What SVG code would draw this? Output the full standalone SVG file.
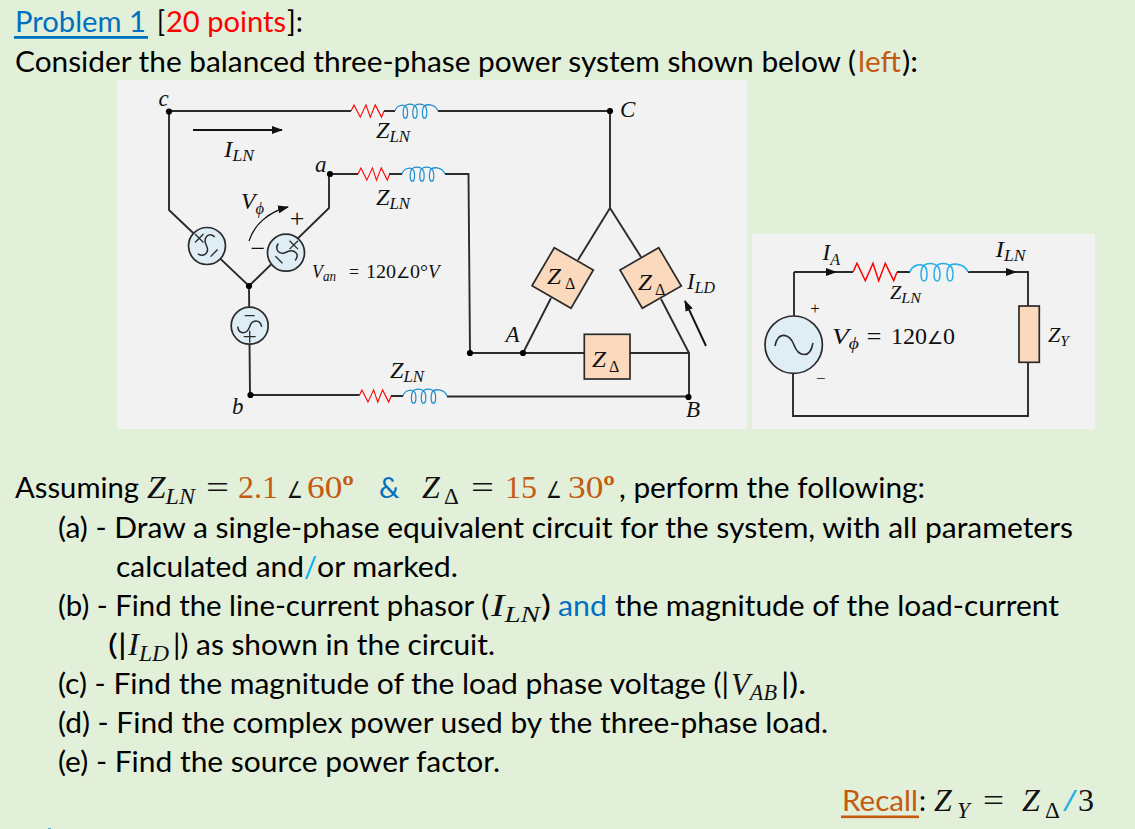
<svg xmlns="http://www.w3.org/2000/svg" width="1135" height="829" viewBox="0 0 1135 829">
<style>
.b{font-family:"Lato","Open Sans",sans-serif;font-size:28.5px;fill:#000}
.m{font-family:"Liberation Serif",serif;font-style:italic;fill:#111}
.u{font-family:"Liberation Serif",serif;font-style:normal;fill:#111}
.s20{font-size:23px}.s15{font-size:16px}.s30{font-size:32px}.s21{font-size:23px}
.w{fill:none;stroke:#2b2b2b;stroke-width:1.9}
.r{fill:none;stroke:#f00;stroke-width:1.5}
.l{fill:none;stroke:#1f8fd0;stroke-width:1.6}
.box{fill:#fbd9bd;stroke:#2b2b2b;stroke-width:1.7}
.src{fill:#deeef4;stroke:#2b2b2b;stroke-width:1.7}
.mk{fill:none;stroke:#2b2b2b;stroke-width:1.3}
.blue{fill:#0070c0}.red{fill:#f00}.or{fill:#c55a11}.sky{fill:#00b0f0}
</style>
<defs>
<path id="res" d="M0 0L4 -8.7L12.3 8.7L20 -8.7L25.7 8.7L32.3 -8.7L40.7 8.7L44 0"/>
<path id="coil" d="M0 0C2 -7 12 -10 16 -4C18 2 17 9 14 9C11 9 10 2 12 -4C15 -10 25 -10 29 -4C31 2 30 9 27 9C24 9 23 2 25 -4C28 -10 38 -10 42 -4C44 2 43 9 40 9C37 9 36 2 38 -4C41 -10 54 -9 58 0"/>
<g id="ac"><circle class="src" r="18.5"/><path class="mk" d="M-12 1C-11 9 -3 9 0 1C2 -6 10 -7 12 1" style="stroke-width:1.5"/><path class="mk" d="M-5 -10H5M-6 11H6M0 5V17"/></g>
<circle id="dot" r="3.1"/>
<marker id="arr" markerWidth="12" markerHeight="8" refX="10" refY="4" orient="auto" markerUnits="userSpaceOnUse"><path d="M0 0L11 4L0 8Z" fill="#111"/></marker>
</defs>
<rect width="1135" height="829" fill="#e2efd9"/>
<rect x="117" y="80" width="630" height="349" fill="#f2f2f2"/>
<rect x="752" y="234" width="343" height="195" fill="#f2f2f2"/>
<rect x="48" y="828" width="3" height="1" fill="#5aa7c7"/>

<g id="connectors">
<path class="w" d="M169 111H351M384 111H395M438 111H610V208M610 208L578 260M551 298L523 353M610 208L641 257M661 299L689 353"/>
<path class="w" d="M169 111V210L249 286L329 208V174H358M389 174H402M445 174H468.5L470 353H584M630 353H689V397M249 286L250 395H359M391 396H403M447 396.5H688"/>
<path class="w" d="M794 272V345M794 272H853M897 272H910M968 272H1028V306M1028 362V416H793V345"/>
<path class="w" d="M193 130H282" marker-end="url(#arr)" style="stroke:#111"/>
<path class="w" d="M706 346L685 301" marker-end="url(#arr)" style="stroke:#111"/>
<path class="w" d="M249 241C254 225 268 212 288 207" marker-end="url(#arr)" style="stroke:#111;stroke-width:1.3"/>
<path class="w" d="M794 272H836" marker-end="url(#arr)"/>
<path class="w" d="M968 272H1016" marker-end="url(#arr)"/>
</g>

<g id="line-c-impedance"><use href="#res" class="r" transform="translate(351 111) scale(.75 .7)"/><use href="#coil" class="l" transform="translate(395 111) scale(.74 .8)"/></g>
<g id="line-a-impedance"><use href="#res" class="r" transform="translate(358 174) scale(.72 .7)"/><use href="#coil" class="l" transform="translate(402 174) scale(.74 .8)"/></g>
<g id="line-b-impedance"><use href="#res" class="r" transform="translate(359 396) scale(.73 .7)"/><use href="#coil" class="l" transform="translate(403 396) scale(.76 .8)"/></g>
<g id="dots"><use href="#dot" x="169" y="111.5"/><use href="#dot" x="330" y="174"/><use href="#dot" x="249" y="286"/><use href="#dot" x="250.5" y="395"/><use href="#dot" x="610" y="111"/><use href="#dot" x="470" y="353"/><use href="#dot" x="523" y="353"/><use href="#dot" x="688.5" y="397"/></g>

<g id="source-c"><use href="#ac" transform="translate(207 246) rotate(135)"/></g>
<g id="source-a"><use href="#ac" transform="translate(286 252.7) rotate(225)"/></g>
<g id="source-b"><use href="#ac" transform="translate(249.7 325.7)"/></g>
<g id="load-AC"><path class="box" d="M554.3 247.7L593.3 270L571 308.3L532 285.7Z"/><text class="m s20" x="547" y="284" textLength="14" lengthAdjust="spacingAndGlyphs">Z</text><text class="u s15" x="565" y="289">Δ</text></g>
<g id="load-BC"><path class="box" d="M658.7 247.7L681.3 286L642.3 308.3L620 270Z"/><text class="m s20" x="638" y="290" textLength="14" lengthAdjust="spacingAndGlyphs">Z</text><text class="u s15" x="655" y="295">Δ</text></g>
<g id="load-AB"><rect class="box" x="584.3" y="334.3" width="45.7" height="44.7"/><text class="m s20" x="592" y="367" textLength="14" lengthAdjust="spacingAndGlyphs">Z</text><text class="u s15" x="609" y="372">Δ</text></g>

<g id="labels-left">
<text class="m s20" x="158.5" y="106">c</text>
<text class="m s20" x="376" y="138" textLength="34" lengthAdjust="spacingAndGlyphs">Z<tspan class="s15" dy="4">LN</tspan></text>
<text class="m s20" x="224" y="157" textLength="30" lengthAdjust="spacingAndGlyphs">I<tspan class="s15" dy="4">LN</tspan></text>
<text class="m s20" x="315" y="172">a</text>
<text class="m s20" x="376" y="205" textLength="34" lengthAdjust="spacingAndGlyphs">Z<tspan class="s15" dy="4">LN</tspan></text>
<text class="m s20" x="241" y="209" textLength="23" lengthAdjust="spacingAndGlyphs">V<tspan font-size="16" dy="5">ϕ</tspan></text>
<text class="u" font-size="26" x="289.7" y="226.5">+</text>
<text class="u" font-size="26" x="250.4" y="256.5">−</text>
<text class="m" font-size="19" x="312" y="278" textLength="24" lengthAdjust="spacingAndGlyphs">V<tspan font-size="14" dy="3">an</tspan></text>
<text class="u" font-size="19" x="349" y="278" textLength="10" lengthAdjust="spacingAndGlyphs">=</text>
<text class="u" font-size="19" x="366" y="278" textLength="62" lengthAdjust="spacingAndGlyphs">120<tspan font-size="15">∠</tspan>0°</text><text class="m" font-size="19" x="428" y="278">V</text>
<text class="m s20" x="390" y="378" textLength="34" lengthAdjust="spacingAndGlyphs">Z<tspan class="s15" dy="4">LN</tspan></text>
<text class="m s20" x="232" y="414">b</text>
<text class="m s20" x="620" y="117">C</text>
<text class="m s20" x="687" y="289" textLength="28" lengthAdjust="spacingAndGlyphs">I<tspan class="s15" dy="4">LD</tspan></text>
<text class="m s20" x="505.5" y="342">A</text>
<text class="m s20" x="686" y="417">B</text>
</g>

<g id="single-phase-circuit">
<use href="#res" class="r" transform="translate(853 272)"/>
<use href="#coil" class="l" transform="translate(910 272)" style="stroke:#29b0ea"/>
<g id="source-eq"><circle class="src" cx="793.7" cy="344.7" r="28.7"/><path class="mk" d="M775 346C778 330 790 334 794 345C798 356 810 360 813 343" style="stroke-width:1.6"/></g>
<g id="load-eq"><rect class="box" x="1019" y="306" width="20.3" height="56.3"/></g>
<text class="m" font-size="23" x="822.5" y="260">I<tspan class="s15" dy="5">A</tspan></text>
<text class="m" font-size="23" x="995.5" y="257" textLength="30" lengthAdjust="spacingAndGlyphs">I<tspan class="s15" dy="4">LN</tspan></text>
<text class="m" font-size="19" x="890" y="299" textLength="31" lengthAdjust="spacingAndGlyphs">Z<tspan font-size="15" dy="4">LN</tspan></text>
<text class="u" font-size="17" x="810.3" y="313.5">+</text>
<text class="u" font-size="17" x="816" y="383.5">−</text>
<text class="m" font-size="24" x="832" y="344" textLength="27" lengthAdjust="spacingAndGlyphs">V<tspan font-size="17" dy="5">ϕ</tspan></text>
<text class="u" font-size="24" x="866.5" y="344" textLength="15" lengthAdjust="spacingAndGlyphs">=</text>
<text class="u" font-size="24" x="891" y="344" textLength="64" lengthAdjust="spacingAndGlyphs">120<tspan font-size="18">∠</tspan>0</text>
<text class="m" font-size="20" x="1048" y="342" textLength="21" lengthAdjust="spacingAndGlyphs">Z<tspan font-size="14" dy="4">Y</tspan></text>
</g>

<g id="text-block">
<text class="b" y="32"><tspan class="blue" x="15" textLength="131" lengthAdjust="spacingAndGlyphs">Problem 1</tspan><tspan x="157" textLength="8" lengthAdjust="spacingAndGlyphs">[</tspan><tspan class="red" x="166" textLength="120" lengthAdjust="spacingAndGlyphs">20 points</tspan><tspan x="287" textLength="16" lengthAdjust="spacingAndGlyphs">]:</tspan></text>
<rect x="14" y="36" width="134" height="2.8" fill="#0070c0"/>
<text class="b" y="71.5"><tspan x="15" textLength="841" lengthAdjust="spacingAndGlyphs">Consider the balanced three-phase power system shown below (</tspan><tspan class="or" x="858" textLength="43" lengthAdjust="spacingAndGlyphs">left</tspan><tspan x="902" textLength="16" lengthAdjust="spacingAndGlyphs">):</tspan></text>
<text class="b" y="498"><tspan x="15" textLength="124" lengthAdjust="spacingAndGlyphs">Assuming</tspan></text>
<text class="m s30" x="147" y="498" textLength="48" lengthAdjust="spacingAndGlyphs">Z<tspan font-size="23" dy="6">LN</tspan></text>
<text class="u s30" x="206" y="498" textLength="23" lengthAdjust="spacingAndGlyphs">=</text>
<text class="u s30" x="238" y="498" style="fill:#c55a11">2.1</text>
<text class="u" font-size="23" x="287" y="498" textLength="16" lengthAdjust="spacingAndGlyphs">∠</text>
<text class="u s30" x="307" y="498" style="fill:#c55a11" textLength="47" lengthAdjust="spacingAndGlyphs">60<tspan style="font-weight:bold">º</tspan></text>
<text class="b blue" x="379" y="498">&amp;</text>
<text class="m s30" x="422" y="498">Z</text><text class="u" font-size="23" x="444" y="504">Δ</text>
<text class="u s30" x="471" y="498" textLength="23" lengthAdjust="spacingAndGlyphs">=</text>
<text class="u s30" x="505" y="498" style="fill:#c55a11">15</text>
<text class="u" font-size="23" x="546" y="498" textLength="16" lengthAdjust="spacingAndGlyphs">∠</text>
<text class="u s30" x="568" y="498" style="fill:#c55a11" textLength="47" lengthAdjust="spacingAndGlyphs">30<tspan style="font-weight:bold">º</tspan></text>
<text class="b" x="619" y="498" textLength="306" lengthAdjust="spacingAndGlyphs">, perform the following:</text>
<text class="b" x="58" y="538" textLength="1015" lengthAdjust="spacingAndGlyphs">(a) - Draw a single-phase equivalent circuit for the system, with all parameters</text>
<text class="b" y="577"><tspan x="116" textLength="188" lengthAdjust="spacingAndGlyphs">calculated and</tspan><tspan class="sky" x="304" textLength="13" lengthAdjust="spacingAndGlyphs">/</tspan><tspan x="317" textLength="141" lengthAdjust="spacingAndGlyphs">or marked.</tspan></text>
<text class="b" x="58" y="616" textLength="431" lengthAdjust="spacingAndGlyphs">(b) - Find the line-current phasor (</text>
<text class="m s30" x="491" y="616" textLength="49" lengthAdjust="spacingAndGlyphs">I<tspan font-size="23" dy="6">LN</tspan></text>
<text class="b" y="616"><tspan x="541" textLength="10" lengthAdjust="spacingAndGlyphs">)</tspan><tspan class="blue" x="558" textLength="49" lengthAdjust="spacingAndGlyphs">and</tspan><tspan x="615" textLength="444" lengthAdjust="spacingAndGlyphs">the magnitude of the load-current</tspan></text>
<text class="b" x="108" y="655" textLength="19" lengthAdjust="spacingAndGlyphs">(|</text>
<text class="m s30" x="128" y="655" textLength="41" lengthAdjust="spacingAndGlyphs">I<tspan font-size="23" dy="6">LD</tspan></text>
<text class="b" x="173" y="655" textLength="322" lengthAdjust="spacingAndGlyphs">|) as shown in the circuit.</text>
<text class="b" x="58" y="694" textLength="671" lengthAdjust="spacingAndGlyphs">(c) - Find the magnitude of the load phase voltage (|</text>
<text class="m s30" x="731" y="695" textLength="46" lengthAdjust="spacingAndGlyphs">V<tspan font-size="23" dy="5">AB</tspan></text>
<text class="b" x="781" y="694" textLength="25" lengthAdjust="spacingAndGlyphs">|).</text>
<text class="b" x="58" y="733" textLength="770" lengthAdjust="spacingAndGlyphs">(d) - Find the complex power used by the three-phase load.</text>
<text class="b" x="58" y="772" textLength="442" lengthAdjust="spacingAndGlyphs">(e) - Find the source power factor.</text>
<text class="b" y="811"><tspan class="or" x="842" textLength="76" lengthAdjust="spacingAndGlyphs">Recall</tspan><tspan x="919" textLength="7" lengthAdjust="spacingAndGlyphs">:</tspan></text>
<rect x="841" y="815.5" width="78" height="2.6" fill="#c55a11"/>
<text class="m s30" x="934" y="811">Z</text><text class="m" font-size="23" x="957" y="818">Y</text>
<text class="u s30" x="983" y="811" textLength="21" lengthAdjust="spacingAndGlyphs">=</text>
<text class="m s30" x="1022" y="811">Z</text><text class="u" font-size="23" x="1045" y="818">Δ</text>
<text class="u s30" x="1063" y="811" style="fill:#1cade4" textLength="14" lengthAdjust="spacingAndGlyphs">/</text>
<text class="u s30" x="1078" y="811">3</text>
</g>
</svg>
